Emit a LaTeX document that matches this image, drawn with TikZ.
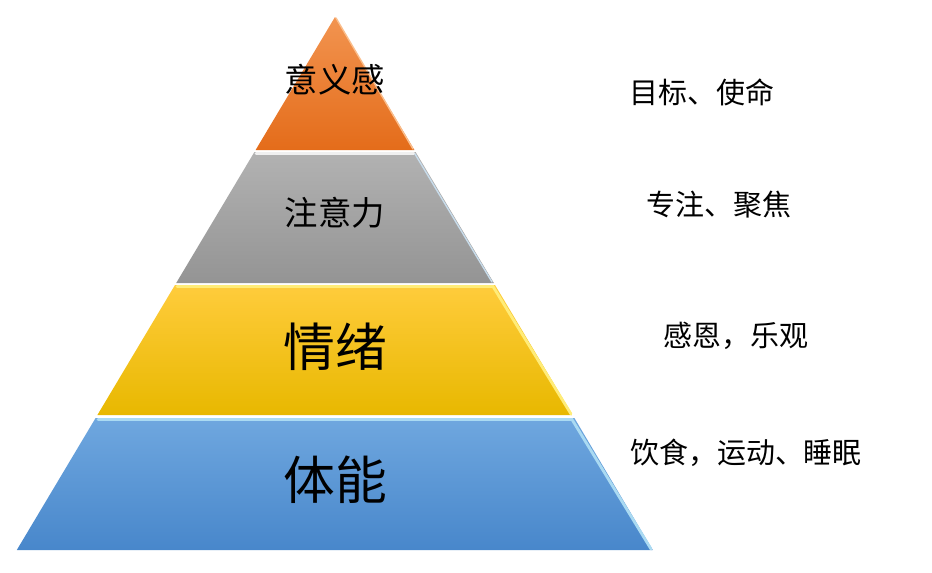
\documentclass[tikz,border=0pt]{standalone}
\usepackage{fontspec}
\newfontfamily\cjk{Noto Sans CJK SC}
\begin{document}
\begin{tikzpicture}[x=0.02cm,y=-0.02cm,%
% common options for the layers:
layer/.style = {draw=none},
% common options for the light edge on top of a layer:
edge/.style = {line width=1.6pt, line cap=round},
% common options for the texts:
inlabel/.style = {font=\cjk, text=black, anchor=center, inner sep=0},
sidelabel/.style = {font=\cjk\fontsize{16.5}{18}\selectfont, text=black, anchor=center, inner sep=0}]
\useasboundingbox (0,0) rectangle (932,572);
% layers of the pyramid, from the bottom up
\shade[layer, top color={rgb,255:red,111;green,167;blue,223}, bottom color={rgb,255:red,72;green,135;blue,203}]
  (95.6,418) -- (574.4,418) -- (652.7,550) -- (16.8,550) -- cycle;
\shade[layer, top color={rgb,255:red,255;green,204;blue,60}, bottom color={rgb,255:red,232;green,184;blue,0}]
  (175,285) -- (495,285) -- (572.6,415) -- (97.4,415) -- cycle;
\shade[layer, top color={rgb,255:red,178;green,178;blue,178}, bottom color={rgb,255:red,148;green,148;blue,148}]
  (254.4,152) -- (415.6,152) -- (493.8,283) -- (176.2,283) -- cycle;
\shade[layer, top color={rgb,255:red,242;green,148;blue,80}, bottom color={rgb,255:red,228;green,108;blue,26}]
  (335,17) -- (414.4,150) -- (255.6,150) -- cycle;
% light edges
\draw[edge, color={rgb,255:red,170;green,218;blue,242}] (98,419.5) -- (572,419.5) -- (651,549);
\draw[edge, color={rgb,255:red,255;green,236;blue,120}] (177,286.5) -- (493,286.5) -- (571,414);
\draw[edge, color={rgb,255:red,240;green,240;blue,240}] (256,153.5) -- (414,153.5);
\draw[edge, line width=0.8pt, color={rgb,255:red,200;green,220;blue,235}] (415,154) -- (492,282);
\draw[edge, line width=0.8pt, color={rgb,255:red,250;green,190;blue,140}] (336,18) -- (413,149);
% texts in the layers
\node[inlabel, font=\cjk\fontsize{19}{21}\selectfont] (meaning) at (335,80) {意义感};
\node[inlabel, font=\cjk\fontsize{19}{21}\selectfont] (attention) at (335,213) {注意力};
\node[inlabel, font=\cjk\fontsize{29.5}{32}\selectfont] (emotion) at (335,347) {情绪};
\node[inlabel, font=\cjk\fontsize{29.5}{32}\selectfont] (energy) at (335,480) {体能};
% texts beside the layers
\node[sidelabel] (goals) at (702,92) {目标、使命};
\node[sidelabel] (focus) at (719,205) {专注、聚焦};
\node[sidelabel] (thanks) at (736,336) {感恩，乐观};
\node[sidelabel] (habits) at (746,453) {饮食，运动、睡眠};
\end{tikzpicture}
\end{document}
